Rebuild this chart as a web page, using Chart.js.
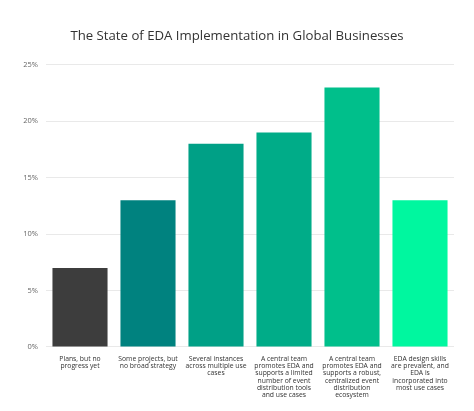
<!DOCTYPE html>
<html>
<head>
<meta charset="utf-8">
<script src="https://cdn.jsdelivr.net/npm/chart.js@4"></script>
<style>
  html, body { margin: 0; padding: 0; background: #fff; }
  #wrap { width: 474px; height: 411px; }
</style>
</head>
<body>
<div id="wrap"><canvas id="edaChart"></canvas></div>
<script>
const categories = [
    ["Plans, but no", "progress yet"],
    ["Some projects, but", "no broad strategy"],
    ["Several instances", "across multiple use", "cases"],
    ["A central team", "promotes EDA and", "supports a limited", "number of event", "distribution tools", "and use cases"],
    ["A central team", "promotes EDA and", "supports a robust,", "centralized event", "distribution", "ecosystem"],
    ["EDA design skills", "are prevalent, and", "EDA is", "incorporated into", "most use cases"]
];
const shares = [7, 13, 18, 19, 23, 13];
const barColors = ["#3d3d3d", "#00827f", "#00a086", "#00ac88", "#00bf8b", "#00f79f"];
const yTicks = [0, 5, 10, 15, 20, 25];

const font = "'Open Sans', 'Noto Sans', sans-serif";

new Chart(document.getElementById("edaChart"), {
    type: "bar",
    data: {
        labels: categories,
        datasets: [{
            data: shares,
            backgroundColor: barColors,
            categoryPercentage: 1,
            barPercentage: 0.81
        }]
    },
    options: {
        responsive: true,
        maintainAspectRatio: false,
        animation: false,
        layout: { padding: { left: 20, right: 20, top: 8, bottom: 12 } },
        plugins: {
            legend: { display: false },
            tooltip: { enabled: false },
            title: {
                display: true,
                text: "The State of EDA Implementation in Global Businesses",
                color: "#333",
                font: { family: font, size: 13.2, weight: "normal" },
                padding: { top: 20, bottom: 21 }
            }
        },
        scales: {
            x: {
                grid: { display: false },
                border: { display: false },
                ticks: {
                    color: "#333",
                    font: { family: font, size: 6.8, lineHeight: 1.08 },
                    maxRotation: 0,
                    autoSkip: false,
                    padding: 0
                }
            },
            y: {
                min: 0,
                max: 25,
                afterBuildTicks: (axis) => {
                    axis.ticks = yTicks.map(v => ({ value: v }));
                },
                afterFit: (axis) => { axis.width = 26; },
                grid: { color: "#e9e9e9", drawTicks: false, lineWidth: 1 },
                border: { display: false },
                ticks: {
                    color: "#666",
                    font: { family: font, size: 7.5 },
                    padding: 8,
                    callback: (v) => v + "%"
                }
            }
        }
    }
});
</script>
</body>
</html>
